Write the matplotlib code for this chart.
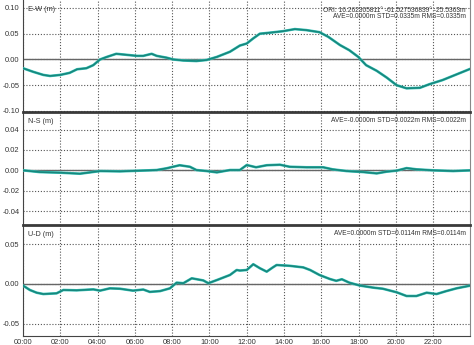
import matplotlib
matplotlib.use("Agg")
import matplotlib.pyplot as plt

# Hour-of-day sample times and displacement values (metres) per component
ew_hours = [0.0, 0.55, 1.09, 1.45, 2.0, 2.5, 2.9, 3.4, 3.77, 4.13, 4.5, 5.0, 5.56, 6.1,
            6.45, 6.9, 7.17, 7.7, 8.06, 8.6, 9.3, 9.85, 10.4, 11.1, 11.63, 12.0, 12.35,
            12.7, 13.24, 13.96, 14.58, 15.2, 15.9, 16.37, 17.0, 17.5, 17.98, 18.4, 18.97,
            19.5, 20.04, 20.57, 21.29, 21.8, 22.5, 23.25, 24.0]
ew_values = [-0.017, -0.024, -0.030, -0.032, -0.030, -0.026, -0.019, -0.017, -0.011, 0.000,
             0.005, 0.011, 0.009, 0.007, 0.007, 0.011, 0.007, 0.0035, 0.000, -0.002, -0.003,
             -0.001, 0.005, 0.015, 0.027, 0.031, 0.041, 0.050, 0.052, 0.055, 0.059, 0.057,
             0.053, 0.044, 0.028, 0.018, 0.005, -0.011, -0.022, -0.035, -0.050, -0.056,
             -0.055, -0.048, -0.040, -0.029, -0.018]

ns_hours = [0.0, 0.9, 2.0, 3.05, 3.6, 4.13, 5.2, 6.3, 7.17, 7.7, 8.4, 8.95, 9.3, 9.85,
            10.4, 11.1, 11.63, 12.0, 12.5, 13.07, 13.78, 14.3, 15.2, 16.1, 16.6, 17.35,
            18.25, 18.97, 19.5, 20.04, 20.57, 21.1, 22.0, 23.07, 24.0]
ns_values = [0.0, -0.0017, -0.0023, -0.0033, -0.002, -0.0007, -0.001, -0.0003, 0.0003,
             0.002, 0.005, 0.0035, 0.0003, -0.0007, -0.002, 0.0003, 0.0003, 0.0052, 0.003,
             0.005, 0.0055, 0.0035, 0.003, 0.003, 0.001, -0.0007, -0.0017, -0.003, -0.0013,
             -0.0003, 0.0022, 0.001, 0.0, -0.0007, 0.0]

ud_hours = [0.0, 0.37, 0.73, 1.09, 1.8, 2.16, 2.88, 3.77, 4.13, 4.66, 5.2, 5.9, 6.45, 6.8,
            7.35, 7.88, 8.24, 8.6, 9.05, 9.67, 9.94, 10.4, 11.1, 11.46, 11.63, 12.0, 12.35,
            12.7, 13.07, 13.4, 13.6, 14.3, 15.03, 15.4, 15.9, 16.46, 16.8, 17.1, 17.5,
            18.07, 18.78, 19.3, 20.04, 20.57, 21.1, 21.65, 22.18, 22.7, 23.25, 24.0]
ud_values = [-0.002, -0.0076, -0.011, -0.0127, -0.0118, -0.0076, -0.008, -0.0068, -0.0084,
             -0.0055, -0.006, -0.0084, -0.007, -0.010, -0.009, -0.0055, 0.0017, 0.001,
             0.0072, 0.0045, 0.001, 0.005, 0.0114, 0.0177, 0.017, 0.0177, 0.025, 0.020,
             0.0156, 0.021, 0.024, 0.023, 0.021, 0.0177, 0.0114, 0.0063, 0.004, 0.006,
             0.0017, -0.002, -0.0046, -0.006, -0.0105, -0.0152, -0.0152, -0.011, -0.0127,
             -0.009, -0.0055, -0.002]

component_labels = ["E-W (m)", "N-S (m)", "U-D (m)"]
stat_labels = [
    "ORI: 16.262305811° -61.527536839° -25.5363m\nAVE=0.0000m STD=0.0335m RMS=0.0335m",
    "AVE=-0.0000m STD=0.0022m RMS=0.0022m",
    "AVE=0.0000m STD=0.0114m RMS=0.0114m",
]
y_ticks = [
    [-0.10, -0.05, 0.00, 0.05, 0.10],
    [-0.04, -0.02, 0.00, 0.02, 0.04],
    [-0.05, 0.00, 0.05],
]
y_limits = [(-0.102, 0.1155), (-0.0533, 0.0572), (-0.0654, 0.075)]
x_ticks = list(range(0, 24, 2))
x_tick_labels = ["%02d:00" % h for h in x_ticks]

series = [(ew_hours, ew_values), (ns_hours, ns_values), (ud_hours, ud_values)]

plt.rcParams["font.family"] = ["Liberation Sans", "DejaVu Sans"]

W, H = 474, 345
fig = plt.figure(figsize=(W / 100, H / 100), dpi=100)
fig.patch.set_facecolor("white")

left = 23 / W
width = (470.5 - 23) / W
panel_px = [(0, 112), (112, 224.7), (224.7, 335.7)]

text_color = "#333333"
line_color = "#17877d"
for i, ((top, bottom), (hrs, vals)) in enumerate(zip(panel_px, series)):
    ph = bottom - top
    ax = fig.add_axes([left, 1 - bottom / H, width, ph / H])
    ax.set_xlim(0, 24)
    ax.set_ylim(*y_limits[i])
    ax.set_xticks(x_ticks)
    ax.set_yticks(y_ticks[i])
    ax.set_yticklabels(["%.2f" % t for t in y_ticks[i]])
    if i == 2:
        ax.set_xticklabels(x_tick_labels)
    else:
        ax.set_xticklabels([])
    ax.tick_params(length=0, labelsize=5.4, colors=text_color, pad=2.5)
    ax.grid(True, color="#555555", linestyle=(0, (1, 1.6)), linewidth=0.8)
    ax.axhline(0, color="#666666", linewidth=1.0, zorder=2)

    for side in ["left", "right", "top", "bottom"]:
        ax.spines[side].set_color("#444444")
        ax.spines[side].set_linewidth(0.8)
    ax.spines["right"].set_color("#888888")
    ax.spines["top"].set_visible(i != 0)
    if i > 0:
        ax.spines["top"].set_linewidth(2.0)
        ax.spines["top"].set_color("#3a3a3a")

    ax.plot(hrs, vals, color="#3cc6bb", linewidth=1.9, solid_capstyle="round", zorder=3)
    ax.plot(hrs, vals, color=line_color, linewidth=1.2, zorder=4)

    ax.text(0.012, 1 - 9.5 / ph, component_labels[i], transform=ax.transAxes,
            fontsize=5.2, color=text_color, va="center", ha="left")
    if i == 0:
        ax.text(0.99, 1 - 10 / ph, stat_labels[i].split("\n")[0], transform=ax.transAxes,
                fontsize=4.8, color=text_color, va="center", ha="right")
        ax.text(0.99, 1 - 16.5 / ph, stat_labels[i].split("\n")[1], transform=ax.transAxes,
                fontsize=4.8, color=text_color, va="center", ha="right")
    else:
        ax.text(0.99, 1 - 9 / ph, stat_labels[i], transform=ax.transAxes,
                fontsize=4.8, color=text_color, va="center", ha="right")

fig.savefig("out.png", dpi=100, facecolor="white")
